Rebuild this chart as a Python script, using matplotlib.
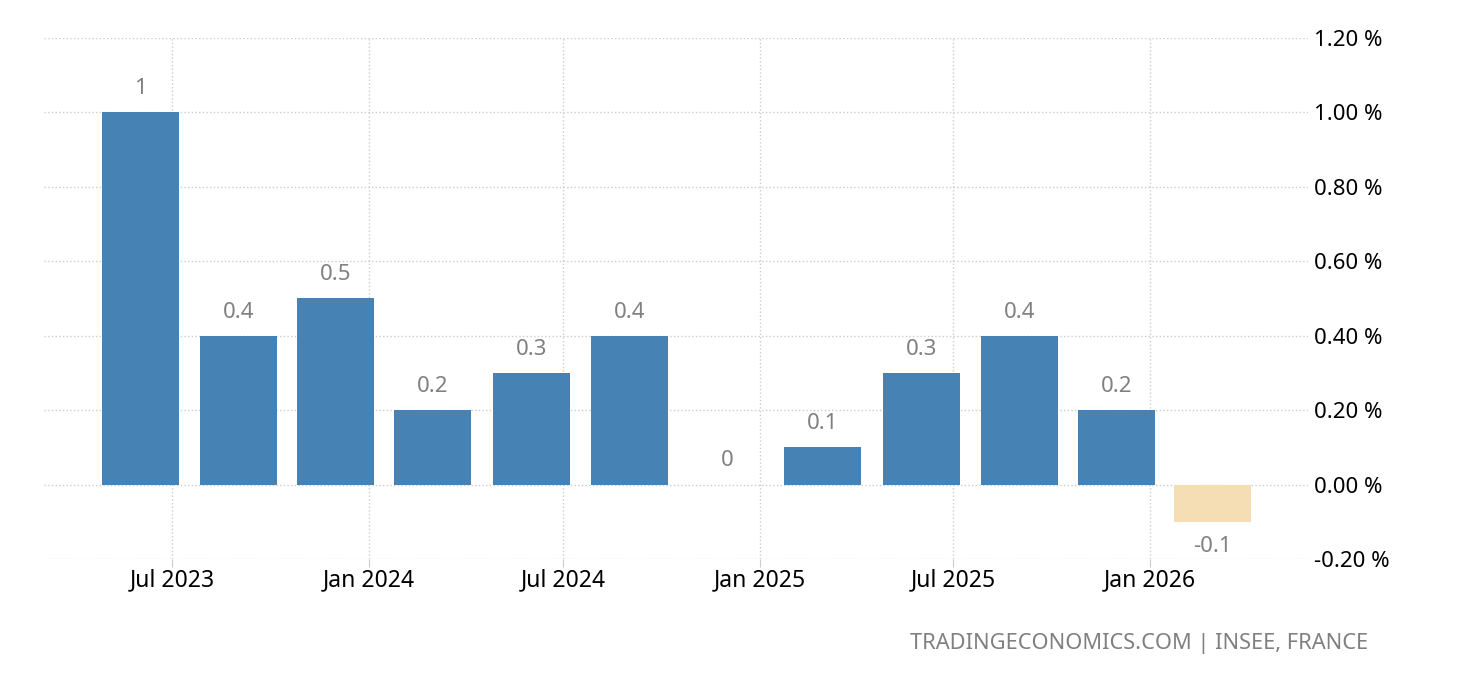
import pandas as pd
import matplotlib
matplotlib.use("Agg")
import matplotlib.pyplot as plt
import matplotlib.dates as mdates

# quarterly GDP growth (%), bars dated as TradingEconomics places them
dates = pd.to_datetime([
    "2023-06-01", "2023-09-01", "2023-12-01", "2024-03-01",
    "2024-06-01", "2024-09-01", "2024-12-01", "2025-03-01",
    "2025-06-01", "2025-09-01", "2025-12-01", "2026-03-01",
])
values = [1.0, 0.4, 0.5, 0.2, 0.3, 0.4, 0.0, 0.1, 0.3, 0.4, 0.2, -0.1]
labels = ["1", "0.4", "0.5", "0.2", "0.3", "0.4", "0", "0.1", "0.3", "0.4", "0.2", "-0.1"]

tick_dates = pd.to_datetime(["2023-07-01", "2024-01-01", "2024-07-01",
                             "2025-01-01", "2025-07-01", "2026-01-01"])
tick_labels = ["Jul 2023", "Jan 2024", "Jul 2024", "Jan 2025", "Jul 2025", "Jan 2026"]
y_ticks = [-0.2, 0.0, 0.2, 0.4, 0.6, 0.8, 1.0, 1.2]

plt.rcParams["font.family"] = ["Noto Sans", "DejaVu Sans"]

fig = plt.figure(figsize=(14.6, 6.8), dpi=100)
ax = fig.add_axes([44 / 1460, 121 / 680, (1308 - 44) / 1460, (559 - 38) / 680])

colors = ["#4682b4" if v >= 0 else "#f5deb3" for v in values]
ax.bar(dates, values, width=72, color=colors, zorder=3)

for d, v, lab in zip(dates, values, labels):
    off = 17 if v >= 0 else -18
    ax.annotate(lab, (d, v), xytext=(0, off), textcoords="offset points",
                ha="center", va="center", fontsize=16, color="#808080")

ax.set_xlim(pd.Timestamp("2023-03-03"), pd.Timestamp("2026-05-29"))
ax.set_ylim(-0.2, 1.2)

ax.set_xticks(tick_dates)
ax.set_xticklabels(tick_labels)
ax.set_yticks(y_ticks)
ax.set_yticklabels([f"{t:.2f} %" for t in y_ticks])
ax.yaxis.tick_right()

ax.tick_params(axis="x", length=6, color="#cccccc", labelsize=16.5, pad=1)
ax.tick_params(axis="y", length=0, labelsize=16, pad=4)

ax.grid(True, linestyle=":", color="#cccccc", linewidth=1, zorder=0)
for s in ax.spines.values():
    s.set_visible(False)

fig.text(1368 / 1460, 1 - 643 / 680, "TRADINGECONOMICS.COM | INSEE, FRANCE",
         ha="right", va="center", fontsize=15.7, color="#808080")

fig.savefig("out.png", dpi=100)
